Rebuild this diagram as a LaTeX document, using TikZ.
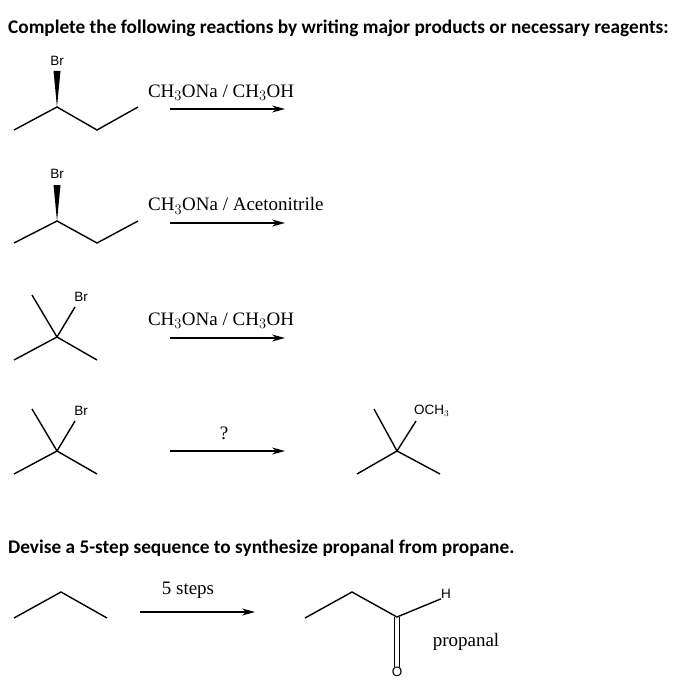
\documentclass[tikz,border=0pt]{standalone}
\usepackage{fontspec}
\setmainfont{Liberation Serif}
\newfontfamily\headfont{Carlito}
\newfontfamily\atomfont{Liberation Sans}
\usetikzlibrary{arrows.meta}
\begin{document}
\begin{tikzpicture}[x=1pt,y=-1pt,
  bond/.style={line width=1.4pt},
  rxn/.style={line width=1.2pt,-{Stealth[length=13pt,width=7pt]}},
  atom/.style={font=\atomfont\fontsize{13.5}{15}\selectfont,inner sep=0pt},
  reag/.style={font=\fontsize{19}{21}\selectfont,inner sep=0pt},
  head/.style={font=\headfont\bfseries\fontsize{19.3}{22}\selectfont,inner sep=0pt,anchor=west}]
\useasboundingbox[fill=white] (0,0) rectangle (700,687);
\node[head] (h1) at (8,28) {Complete the following reactions by writing major products or necessary reagents:};
% molecule 1
\node[atom] (br1) at (57,61) {Br};
\coordinate (a1) at (14,130); \coordinate (c1) at (57,107); \coordinate (d1) at (97,130); \coordinate (e1) at (138,107);
\draw[bond] (a1)--(c1)--(d1)--(e1);
\fill (c1) -- ++(-3.5,-36) -- ++(7,0) -- cycle;
\coordinate (s1) at (170,109); \coordinate (t1) at (285,109);
\draw[rxn] (s1)--(t1);
\node[reag] (r1) at (221,93) {CH$_3$ONa / CH$_3$OH};
% molecule 2
\node[atom] (br2) at (57,174) {Br};
\coordinate (a2) at (14,243); \coordinate (c2) at (57,221); \coordinate (d2) at (97,243); \coordinate (e2) at (138,221);
\draw[bond] (a2)--(c2)--(d2)--(e2);
\fill (c2) -- ++(-3.5,-36) -- ++(7,0) -- cycle;
\coordinate (s2) at (170,223); \coordinate (t2) at (285,223);
\draw[rxn] (s2)--(t2);
\node[reag,anchor=west] (r2) at (148,206) {CH$_3$ONa / Acetonitrile};
% molecule 3
\node[atom] (br3) at (81,297) {Br};
\coordinate (c3) at (57,337);
\coordinate (u3) at (32,295); \coordinate (b3) at (75,307); \coordinate (l3) at (14,360); \coordinate (r3) at (97,360);
\draw[bond] (u3)--(c3)--(b3); \draw[bond] (l3)--(c3)--(r3);
\coordinate (s3) at (170,338); \coordinate (t3) at (285,338);
\draw[rxn] (s3)--(t3);
\node[reag] (rg3) at (221,321) {CH$_3$ONa / CH$_3$OH};
% molecule 4
\node[atom] (br4) at (81,411) {Br};
\coordinate (c4) at (57,451);
\coordinate (u4) at (32,409); \coordinate (b4) at (75,421); \coordinate (l4) at (14,474); \coordinate (r4) at (97,474);
\draw[bond] (u4)--(c4)--(b4); \draw[bond] (l4)--(c4)--(r4);
\coordinate (s4) at (170,451); \coordinate (t4) at (285,451);
\draw[rxn] (s4)--(t4);
\node[reag] (q4) at (224,433) {?};
\node[atom,anchor=west] (o4) at (414,411) {OCH$_3$};
\coordinate (p4) at (397,451);
\coordinate (pu) at (374,409); \coordinate (pb) at (416,421); \coordinate (pl) at (357,474); \coordinate (pr) at (440,474);
\draw[bond] (pu)--(p4)--(pb); \draw[bond] (pl)--(p4)--(pr);
% heading 2
\node[head] (h2) at (8,548) {Devise a 5-step sequence to synthesize propanal from propane.};
% propane
\coordinate (m1) at (14,618); \coordinate (m2) at (61,592); \coordinate (m3) at (107,618);
\draw[bond] (m1)--(m2)--(m3);
\coordinate (s5) at (140,612); \coordinate (t5) at (255,612);
\draw[rxn] (s5)--(t5);
\node[reag] (st) at (188,590) {5 steps};
% propanal
\coordinate (n1) at (305,618); \coordinate (n2) at (352,592); \coordinate (n3) at (397,617);
\node[atom] (hh) at (446,594) {H};
\node[atom] (oo) at (397,672) {O};
\draw[bond] (n1)--(n2)--(n3)--(hh.south west);
\draw[line width=1.2pt] ([xshift=-2.5pt]n3)--([xshift=-2.5pt]oo.north);
\draw[line width=1.2pt] ([xshift=2.5pt]n3)--([xshift=2.5pt]oo.north);
\node[reag] (pn) at (466,642) {propanal};
\end{tikzpicture}
\end{document}
